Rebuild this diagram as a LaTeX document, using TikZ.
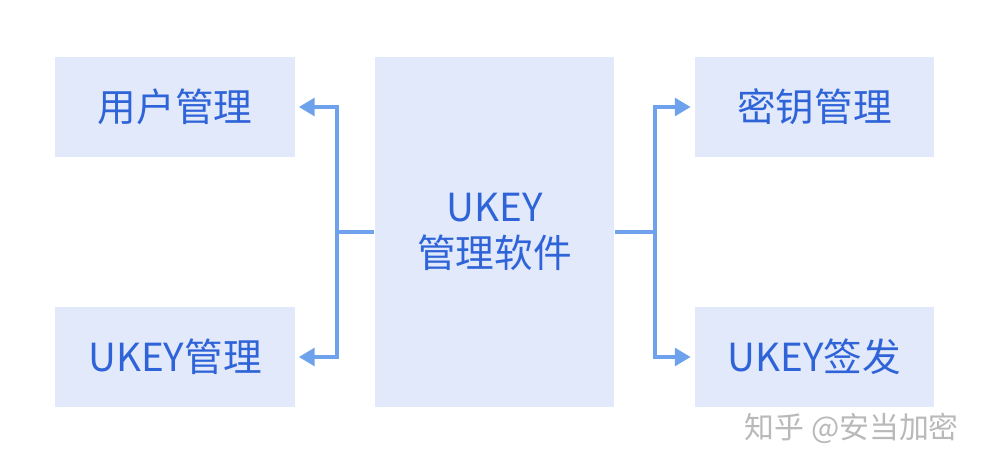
\documentclass[tikz,border=0pt]{standalone}
\usepackage{fontspec}
\setmainfont{Liberation Sans}
\newfontfamily\cjk{Noto Sans CJK SC}
\usetikzlibrary{arrows.meta}
\definecolor{boxfill}{HTML}{E1E9FB}
\definecolor{txt}{HTML}{2F63D8}
\definecolor{ln}{HTML}{6FA2EC}
\begin{document}
\begin{tikzpicture}[x=0.02cm,y=-0.02cm,
  box/.style={fill=boxfill,draw=none,inner sep=0,font=\cjk\fontsize{22}{26}\selectfont,text=txt,align=center},
  conn/.style={ln,line width=2.2pt,-{Triangle[length=9pt,width=10pt]}}]
\useasboundingbox (0,0) rectangle (990,465);
\fill[white] (0,0) rectangle (990,465);
\node[box,minimum width=4.8cm,minimum height=2cm] (a) at (175,107) {用户管理};
\node[box,minimum width=4.8cm,minimum height=2cm] (b) at (175,357) {UKEY管理};
\node[box,minimum width=4.8cm,minimum height=7cm] (c) at (494.5,232) {UKEY\\管理软件};
\node[box,minimum width=4.8cm,minimum height=2cm] (d) at (814.5,107) {密钥管理};
\node[box,minimum width=4.8cm,minimum height=2cm] (e) at (814.5,357) {UKEY签发};
\coordinate (lj) at (337,232);
\coordinate (rj) at (655,232);
\draw[ln,line width=2.2pt] (c.west) -- (lj);
\draw[ln,line width=2.2pt] (c.east) -- (rj);
\draw[conn] (lj) |- ([xshift=2pt]a.east);
\draw[conn] (lj) |- ([xshift=2pt]b.east);
\draw[conn] (rj) |- ([xshift=-2pt]d.west);
\draw[conn] (rj) |- ([xshift=-2pt]e.west);
\node[text=white!45!gray,font=\cjk\fontsize{17}{20}\selectfont,anchor=east] (w) at (965,428) {知乎 @安当加密};
\end{tikzpicture}
\end{document}
